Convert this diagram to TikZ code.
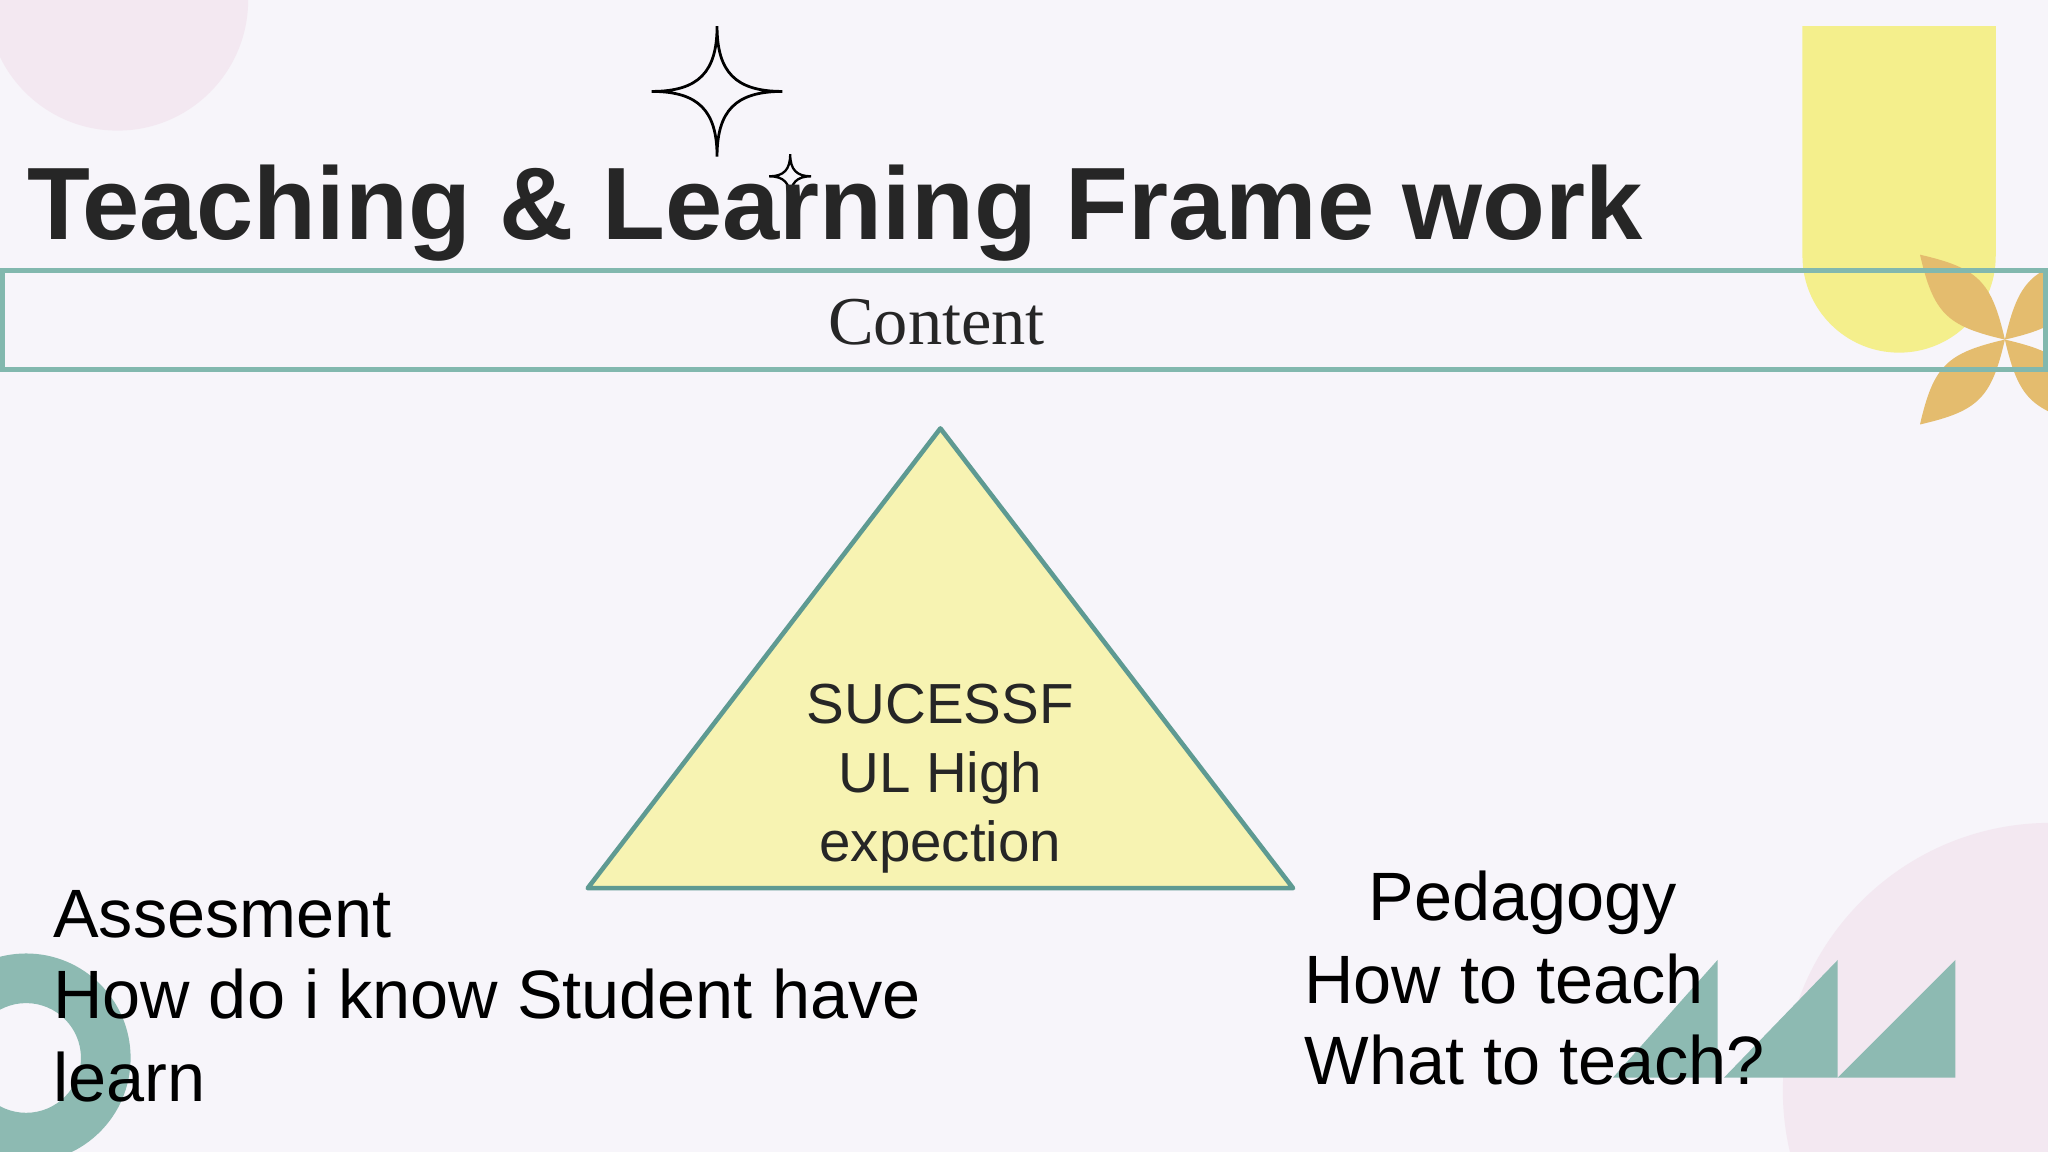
\documentclass[tikz,border=0pt]{standalone}
\usepackage{fontspec}
\usetikzlibrary{calc}
\setmainfont{Liberation Sans}
\newfontfamily\serifb{Liberation Serif}
\begin{document}
\begin{tikzpicture}[x=0.01cm,y=-0.01cm,
  body/.style={anchor=base west,inner sep=0,font=\fontsize{14.9}{18}\selectfont,text=black}]
\definecolor{bg}{HTML}{F7F5FA}
\definecolor{pinkdeco}{HTML}{F3E8F1}
\definecolor{tealdeco}{HTML}{8DBAB2}
\definecolor{yel}{HTML}{F4EF8C}
\definecolor{orng}{HTML}{E4BC6E}
\definecolor{tline}{HTML}{82B8AE}
\definecolor{tri}{HTML}{F7F3B2}
\definecolor{tristroke}{HTML}{5E9A92}
\useasboundingbox (0,0) rectangle (1568,882);
\fill[bg] (0,0) rectangle (1568,882);
\begin{scope}
\clip (0,0) rectangle (1568,882);
\fill[pinkdeco] (90,0) circle (100);
\fill[pinkdeco] (1570,835) circle (205);
\fill[yel] (1380,20) -- (1528,20) -- (1528,196) arc[start angle=0,end angle=-180,x radius=74,y radius=-74] -- cycle;
\coordinate (fc) at (1535,260);
\foreach \px/\py in {1470/195,1470/325,1600/195,1600/325}{
  \coordinate (fp) at (\px,\py);
  \fill[orng] (fc) .. controls ($(fc)!0.5!32:(fp)$) and ($(fp)!0.5!-32:(fc)$) .. (fp)
    .. controls ($(fp)!0.5!32:(fc)$) and ($(fc)!0.5!-32:(fp)$) .. (fc);
}
\fill[tealdeco,even odd rule] (20,810) circle (80) (20,810) circle (42);
\fill[tealdeco] (1315,735) -- (1315,825) -- (1235,825) -- cycle;
\fill[tealdeco] (1407,735) -- (1407,825) -- (1320,825) -- cycle;
\fill[tealdeco] (1497,735) -- (1497,825) -- (1407,825) -- cycle;
\end{scope}
\draw[line width=0.6pt] (549,20) .. controls (549,55) and (535,70) .. (499,70) .. controls (535,70) and (549,85) .. (549,120) .. controls (549,85) and (563,70) .. (599,70) .. controls (563,70) and (549,55) .. (549,20);
\draw[line width=0.5pt] (605,118) .. controls (605,130) and (600,135) .. (589,135) .. controls (600,135) and (605,140) .. (605,152) .. controls (605,140) and (610,135) .. (621,135) .. controls (610,135) and (605,130) .. (605,118);
\node[anchor=base west,inner sep=0,font=\fontsize{22.4}{27}\selectfont\bfseries,text=black!85] (title) at (20,183) {Teaching \& Learning Frame work};
\draw[tline,line width=1pt] (2,207) rectangle (1566,283);
\node[font=\serifb\fontsize{14.9}{18}\selectfont,text=black!85] (content) at (717,247) {Content};
\draw[tristroke,fill=tri,line width=1pt,line join=round] (720,328) -- (450,680) -- (990,680) -- cycle;
\node[align=center,font=\fontsize{12.3}{15}\selectfont,text=black!85,inner sep=0] (center) at (720,596) {SUCESSF\\[0pt]UL High\\[0pt]expection};
\node[body] (a1) at (40,718) {Assesment};
\node[body] (a2) at (40,780) {How do i know Student have};
\node[body] (a3) at (40,843) {learn};
\node[body] (p1) at (1047,705) {Pedagogy};
\node[body] (p2) at (998,768) {How to teach};
\node[body] (p3) at (998,830) {What to teach?};
\end{tikzpicture}
\end{document}
